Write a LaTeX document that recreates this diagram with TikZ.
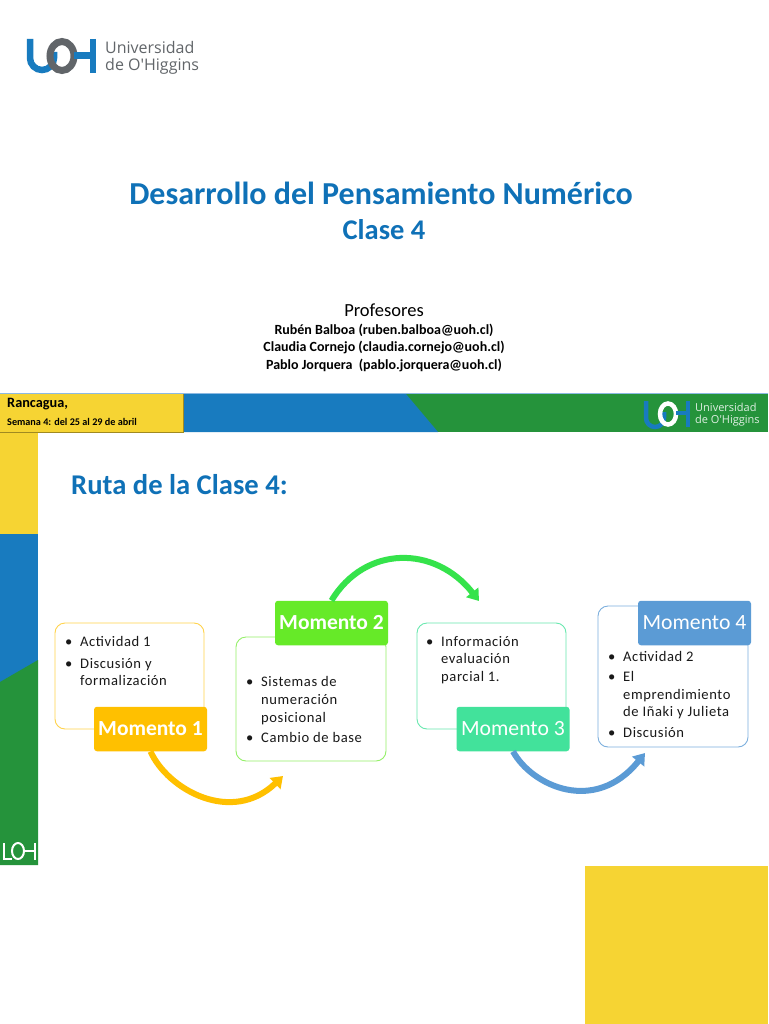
\documentclass[tikz,border=0pt]{standalone}
\usepackage{fontspec}
\setmainfont{Carlito}
\newfontfamily\boxfont[LetterSpace=4]{Carlito}
\newfontfamily\logofont{Open Sans}
\usetikzlibrary{arrows.meta}
\definecolor{uohblue}{HTML}{187BBF}
\definecolor{uohgreen}{HTML}{25933B}
\definecolor{uohyellow}{HTML}{F6D433}
\definecolor{titleblue}{HTML}{0F71B7}
\definecolor{mone}{HTML}{FFC000}
\definecolor{mtwo}{HTML}{66EA28}
\definecolor{mthree}{HTML}{42E29B}
\definecolor{mfour}{HTML}{5B9BD5}
\definecolor{arrowgreen}{HTML}{35E34B}
\definecolor{logogray}{HTML}{616569}
\newcommand{\bl}{\makebox[15pt][l]{\textbullet}}
\newcommand{\ind}{\hspace*{15pt}}
\tikzset{
  x=1pt,y=-1pt,
  titletext/.style={text=titleblue,font=\bfseries,inner sep=0pt,anchor=center},
  prof/.style={font=\bfseries\fontsize{14}{16}\selectfont,inner sep=0pt,anchor=center},
  card/.style={draw,rounded corners=10pt,fill=white,line width=0.9pt},
  tag/.style={rounded corners=3pt,inner sep=0pt,text=white,font=\fontsize{21.5}{24}\selectfont\bfseries},
  tagl/.style={rounded corners=3pt,inner sep=0pt,text=white,font=\fontsize{21.7}{24}\selectfont},
  bodytext/.style={anchor=north west,inner sep=0pt,align=left,text=black!90,font=\boxfont\fontsize{14.6}{17.7}\selectfont},
  swoop/.style={line width=6pt,-{Triangle[length=11pt,width=15pt]}},
}
\begin{document}
\begin{tikzpicture}
\useasboundingbox (0,0) rectangle (768,1024);
\fill[white] (0,0) rectangle (768,1024);
% top logo
\draw[uohblue,line width=6.5pt] (30,39) -- (30,58) arc[start angle=180,end angle=0,x radius=12,y radius=12] -- (54,52);
\draw[logogray,line width=7pt] (62,56) ellipse[x radius=12,y radius=14.5];
\draw[uohblue,line width=6.5pt] (74,55.5) -- (93,55.5) (93,39) -- (93,73);
\node[anchor=west,inner sep=0pt,text=logogray,font=\logofont\fontsize{16}{18}\selectfont] (logoa) at (105,48) {Universidad};
\node[anchor=west,inner sep=0pt,text=logogray,font=\logofont\fontsize{16}{18}\selectfont] (logob) at (105,66) {de O'Higgins};
% titles
\node[titletext,font=\bfseries\fontsize{32}{36}\selectfont] (title) at (381,193) {Desarrollo del Pensamiento Numérico};
\node[titletext,font=\bfseries\fontsize{28.5}{32}\selectfont] (clase) at (384,230) {Clase 4};
\node[inner sep=0pt,font=\fontsize{18.5}{22}\selectfont] (profs) at (384,310) {Profesores};
\node[prof] (p1) at (384,330.5) {Rubén Balboa (ruben.balboa@uoh.cl)};
\node[prof] (p2) at (384,347.5) {Claudia Cornejo (claudia.cornejo@uoh.cl)};
\node[prof] (p3) at (384,365.5) {Pablo Jorquera\ \ (pablo.jorquera@uoh.cl)};
% header band
\fill[uohgreen] (0,394) rectangle (768,432);
\fill[uohblue] (183,394) -- (406,394) -- (438,432) -- (183,432) -- cycle;
\draw[mfour!70,line width=0.8pt] (0,393.5) -- (768,393.5);
\fill[uohyellow] (0,394) rectangle (183,432);
\draw[black!35!uohyellow,line width=0.5pt] (183,394) -- (183,432) -- (0,432);
\node[anchor=west,inner sep=0pt,font=\bfseries\fontsize{14.3}{16}\selectfont] (city) at (7,404) {Rancagua,};
\node[anchor=west,inner sep=0pt,font=\bfseries\fontsize{10.2}{12}\selectfont] (week) at (7,422) {Semana 4: del 25 al 29 de abril};
% header logo
\draw[uohblue,line width=4.5pt] (646,401) -- (646,418) arc[start angle=180,end angle=0,radius=9] -- (664,412);
\draw[white,line width=4.5pt] (668,414) ellipse[x radius=8,y radius=10.5];
\draw[uohblue,line width=4pt] (676,413) -- (688,413) (688,401) -- (688,427);
\node[anchor=west,inner sep=0pt,text=white!85!uohgreen,font=\logofont\fontsize{11}{13}\selectfont] (hl1) at (695,407) {Universidad};
\node[anchor=west,inner sep=0pt,text=white!85!uohgreen,font=\logofont\fontsize{11}{13}\selectfont] (hl2) at (695,421) {de O'Higgins};
% left band
\fill[uohyellow] (0,433) rectangle (38,534);
\fill[uohblue] (0,534) rectangle (38,690);
\fill[uohgreen] (0,682) -- (38,660) -- (38,865) -- (0,865) -- cycle;
\draw[white,line width=2pt] (4,843) -- (4,859) -- (12,859);
\draw[white,line width=2pt] (18,851) ellipse[x radius=6,y radius=8];
\draw[white,line width=2pt] (24,851) -- (35,851) (35,843) -- (35,860);
% bottom right
\fill[uohyellow] (585,866) rectangle (768,1024);
% heading
\node[anchor=west,inner sep=0pt,text=titleblue,font=\bfseries\fontsize{28.6}{32}\selectfont] (ruta) at (71,485) {Ruta de la Clase 4:};
% cards
\draw[card,draw=mone!70] (55,623) rectangle (204,729);
\draw[card,draw=mtwo!70] (236,637) rectangle (386,761);
\draw[card,draw=mthree!80] (417,623) rectangle (566,729);
\draw[card,draw=mfour!80] (598,606) rectangle (748,747);
\node[bodytext] (t1) at (65,636) {\bl Actividad 1\\[4pt]\bl Discusión y\\\ind formalización};
\node[bodytext] (t2) at (246,676.5) {\bl Sistemas de\\\ind numeración\\\ind posicional\\[3pt]\bl Cambio de base};
\node[bodytext] (t3) at (426,636) {\bl Información\\\ind evaluación\\\ind parcial 1.};
\node[bodytext] (t4) at (608,651) {\bl Actividad 2\\[2.5pt]\bl El\\\ind emprendimiento\\\ind de Iñaki y Julieta\\[2.5pt]\bl Discusión};
% tags
\node[tag,fill=mone,minimum width=113pt,minimum height=44.5pt] (m1) at (150.5,729) {Momento 1};
\node[tag,fill=mtwo,minimum width=113pt,minimum height=44.5pt] (m2) at (331.5,623) {Momento 2};
\node[tagl,fill=mthree,minimum width=113pt,minimum height=44.5pt] (m3) at (513,729) {Momento 3};
\node[tagl,fill=mfour,minimum width=113pt,minimum height=44.5pt] (m4) at (694.5,623) {Momento 4};
% swoops
\coordinate (e1) at (283,776);
\coordinate (e2) at (479,601);
\coordinate (e3) at (645,753);
\draw[swoop,mone] (m1.south) .. controls (168,790) and (232,825) .. (e1);
\draw[swoop,arrowgreen] (m2.north) .. controls (365,545) and (435,545) .. (e2);
\draw[swoop,mfour] (m3.south) .. controls (532,786) and (595,815) .. (e3);
\end{tikzpicture}
\end{document}
